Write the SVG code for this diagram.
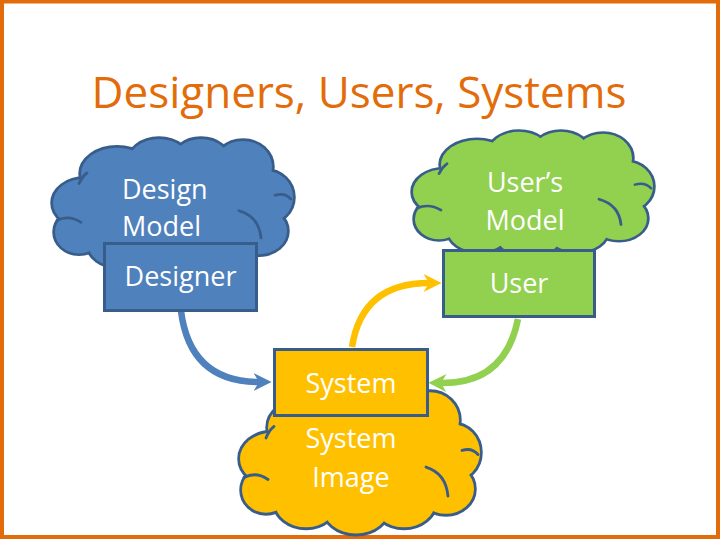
<svg xmlns="http://www.w3.org/2000/svg" xmlns:xlink="http://www.w3.org/1999/xlink" width="720" height="540" viewBox="0 0 720 540">
  <style>
    .title { font-family: "Open Sans", "Noto Sans", "Liberation Sans", sans-serif; font-size: 44px; fill: #E36C0A; }
    .lbl { font-family: "Open Sans", "Noto Sans", "Liberation Sans", sans-serif; font-size: 27px; fill: #FFFFFF; }
    .box { stroke: #385D8A; stroke-width: 3; }
    .cloudline { stroke: #385D8A; stroke-width: 5.5; }
    .inner { fill: none; stroke: #385D8A; stroke-width: 2.8; stroke-linecap: round; }
    .conn { fill: none; stroke-width: 6.5; }
  </style>
  <defs>
    <g id="lobes">
      <ellipse cx="32" cy="68" rx="32" ry="25"/>
      <ellipse cx="64" cy="38" rx="36" ry="27"/>
      <ellipse cx="106" cy="27" rx="31" ry="25"/>
      <ellipse cx="148" cy="26" rx="29" ry="24"/>
      <ellipse cx="190" cy="31" rx="29" ry="27"/>
      <ellipse cx="213" cy="62" rx="27" ry="27"/>
      <ellipse cx="206" cy="97" rx="28" ry="24"/>
      <ellipse cx="164" cy="110" rx="31" ry="24"/>
      <ellipse cx="116" cy="114" rx="33" ry="26"/>
      <ellipse cx="66" cy="110" rx="31" ry="24"/>
      <ellipse cx="26" cy="98" rx="24" ry="22"/>
      <ellipse cx="120" cy="70" rx="95" ry="48"/>
    </g>
    <g id="arcs">
      <path d="M4,86 Q16,80 28,88"/>
      <path d="M186,76 Q206,82 208,104"/>
      <path d="M222,60 Q232,57 238,64"/>
      <path d="M26,48 Q29,41 34,37"/>
    </g>
    <marker id="ahBlue" viewBox="0 0 10 10" refX="3" refY="5" markerWidth="18" markerHeight="18" markerUnits="userSpaceOnUse" orient="auto">
      <path d="M0,0 L10,5 L0,10 L3,5 Z" fill="#4F81BD"/>
    </marker>
    <marker id="ahOrange" viewBox="0 0 10 10" refX="3" refY="5" markerWidth="18" markerHeight="18" markerUnits="userSpaceOnUse" orient="auto">
      <path d="M0,0 L10,5 L0,10 L3,5 Z" fill="#FFC000"/>
    </marker>
    <marker id="ahGreen" viewBox="0 0 10 10" refX="3" refY="5" markerWidth="18" markerHeight="18" markerUnits="userSpaceOnUse" orient="auto">
      <path d="M0,0 L10,5 L0,10 L3,5 Z" fill="#92D050"/>
    </marker>
  </defs>

  <rect x="0" y="0" width="720" height="540" fill="#FFFFFF"/>
  <rect x="2" y="1.5" width="716" height="535.5" fill="none" stroke="#E36C0A" stroke-width="4"/>

  <text class="title" x="359" y="108" text-anchor="middle">Designers, Users, Systems</text>

  <g id="connectors">
    <path class="conn" d="M181,311 Q190,382 259,382" stroke="#4F81BD" marker-end="url(#ahBlue)"/>
    <path class="conn" d="M352,347 Q362,283 429,283" stroke="#FFC000" marker-end="url(#ahOrange)"/>
    <path class="conn" d="M518,319 Q505,384 441,383" stroke="#92D050" marker-end="url(#ahGreen)"/>
  </g>

  <g id="designer">
    <g transform="translate(53,137) scale(1,0.97)">
      <use xlink:href="#lobes" href="#lobes" class="cloudline" fill="#4F81BD"/>
      <use xlink:href="#lobes" href="#lobes" fill="#4F81BD"/>
      <use xlink:href="#arcs" href="#arcs" class="inner"/>
    </g>
    <text class="lbl" x="122" y="199">Design</text>
    <text class="lbl" x="122" y="236">Model</text>
    <rect class="box" x="104.5" y="243.5" width="152" height="67" fill="#4F81BD"/>
    <text class="lbl" x="180.5" y="286" text-anchor="middle">Designer</text>
  </g>

  <g id="user">
    <g transform="translate(413,130) scale(1,0.91)">
      <use xlink:href="#lobes" href="#lobes" class="cloudline" fill="#92D050"/>
      <use xlink:href="#lobes" href="#lobes" fill="#92D050"/>
      <use xlink:href="#arcs" href="#arcs" class="inner"/>
    </g>
    <text class="lbl" x="525" y="192" text-anchor="middle">User’s</text>
    <text class="lbl" x="525" y="230" text-anchor="middle">Model</text>
    <rect class="box" x="443.5" y="250.5" width="151" height="66" fill="#92D050"/>
    <text class="lbl" x="519" y="293" text-anchor="middle">User</text>
  </g>

  <g id="system">
    <g transform="translate(240,388) scale(1,1.04)">
      <use xlink:href="#lobes" href="#lobes" class="cloudline" fill="#FFC000"/>
      <use xlink:href="#lobes" href="#lobes" fill="#FFC000"/>
      <use xlink:href="#arcs" href="#arcs" class="inner"/>
    </g>
    <rect class="box" x="274.5" y="349.5" width="153" height="66" fill="#FFC000"/>
    <text class="lbl" x="351" y="393" text-anchor="middle">System</text>
    <text class="lbl" x="351" y="448" text-anchor="middle">System</text>
    <text class="lbl" x="351" y="487" text-anchor="middle">Image</text>
  </g>
</svg>
